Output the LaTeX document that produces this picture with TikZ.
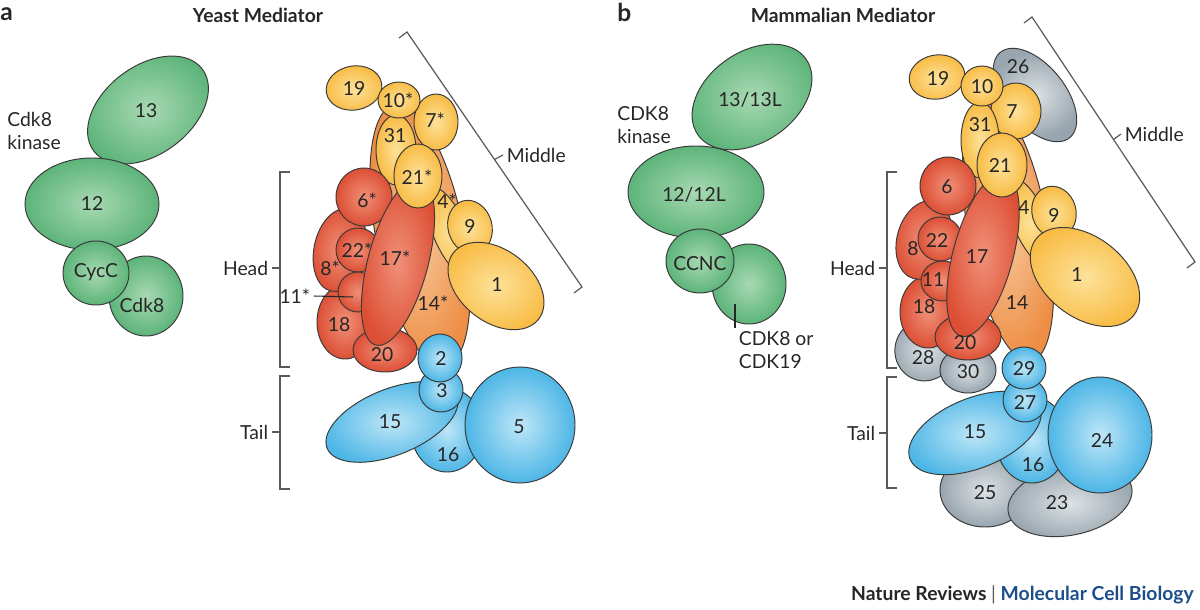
\documentclass[tikz,border=0pt]{standalone}
\usepackage{fontspec}
\setmainfont{Lato}
\usepackage{xcolor}
\usetikzlibrary{calc, positioning}

\definecolor{edgec}{HTML}{3A3A3A}
\definecolor{txt}{HTML}{262626}
\definecolor{brk}{HTML}{5A5A5A}
\definecolor{natblue}{HTML}{1C4E8A}
\definecolor{grnin}{HTML}{A8D9B2}
\definecolor{grnout}{HTML}{5DB47A}
\definecolor{yelin}{HTML}{FDE29A}
\definecolor{yelout}{HTML}{F8BC45}
\definecolor{redin}{HTML}{F09078}
\definecolor{redout}{HTML}{DC4F35}
\definecolor{orgin}{HTML}{F7C79A}
\definecolor{orgout}{HTML}{EE8E45}
\definecolor{bluin}{HTML}{BEE6F7}
\definecolor{bluout}{HTML}{4DB6E6}
\definecolor{gryin}{HTML}{DDE2E5}
\definecolor{gryout}{HTML}{98A5AE}

% one subunit: style, centre, x radius, y radius, tilt
\newcommand{\blob}[5]{\path[#1, rotate around={#5:#2}] #2 ellipse (#3 and #4);}

\begin{document}
\begin{tikzpicture}[x=0.02cm, y=-0.02cm,
    every node/.style={font=\fontsize{11}{13}\selectfont, text=txt},
    grnblob/.style={draw=edgec, line width=0.55pt, inner color=grnin, outer color=grnout},
    yelblob/.style={draw=edgec, line width=0.55pt, inner color=yelin, outer color=yelout},
    redblob/.style={draw=edgec, line width=0.55pt, inner color=redin, outer color=redout},
    orgblob/.style={draw=edgec, line width=0.55pt, inner color=orgin, outer color=orgout},
    blublob/.style={draw=edgec, line width=0.55pt, inner color=bluin, outer color=bluout},
    gryblob/.style={draw=edgec, line width=0.55pt, inner color=gryin, outer color=gryout},
    brkt/.style={draw=brk, line width=0.7pt},
    side/.style={inner sep=2pt}]
    \useasboundingbox (0,0) rectangle (1200,609);

    % Tiêu đề
    \node[font=\fontsize{14}{16}\selectfont\bfseries, anchor=west, inner sep=0pt] (pa) at (0,14) {a};
    \node[font=\fontsize{14}{16}\selectfont\bfseries, anchor=west, inner sep=0pt] (pb) at (617,12) {b};
    \node[font=\fontsize{11}{13}\selectfont\bfseries, anchor=base] (tita) at (258,22) {Yeast Mediator};
    \node[font=\fontsize{11}{13}\selectfont\bfseries, anchor=base] (titb) at (843,22) {Mammalian Mediator};

    % (a) module kinase
    \blob{grnblob}{(148,110)}{68}{44}{37}
    \blob{grnblob}{(92,204)}{67}{46}{0}
    \blob{grnblob}{(146,296)}{37}{40}{0}
    \blob{grnblob}{(96,273)}{33}{32}{0}

    % (a) lõi Mediator
    \blob{orgblob}{(420,235)}{44}{133}{11}
    \blob{yelblob}{(354,88)}{28}{22}{10}
    \blob{yelblob}{(436,122)}{22}{28}{0}
    \blob{yelblob}{(396,150)}{20}{35}{0}
    \blob{yelblob}{(399,100)}{21}{18}{0}
    \blob{yelblob}{(450,232)}{17}{48}{23}
    \blob{yelblob}{(470,227)}{22}{27}{15}
    \blob{yelblob}{(496,286)}{54}{36}{-38}
    \blob{redblob}{(345,322)}{28}{37}{0}
    \blob{redblob}{(340,250)}{26}{42}{-12}
    \blob{redblob}{(358,250)}{22}{22}{0}
    \blob{redblob}{(358,292)}{20}{20}{0}
    \blob{redblob}{(385,350)}{32}{22}{0}
    \blob{redblob}{(364,197)}{28}{29}{0}
    \blob{redblob}{(398,262)}{30}{86}{-15}
    \blob{yelblob}{(418,176)}{24}{32}{0}
    \blob{blublob}{(447,430)}{36}{42}{0}
    \blob{blublob}{(392,422)}{70}{33}{22}
    \blob{blublob}{(441,390)}{22}{22}{0}
    \blob{blublob}{(440,358)}{22}{24}{0}
    \blob{blublob}{(520,425)}{55}{58}{0}

    % (b) module kinase
    \blob{grnblob}{(752,97)}{66}{45}{35}
    \blob{grnblob}{(696,192)}{68}{46}{0}
    \blob{grnblob}{(749,284)}{37}{40}{0}
    \blob{grnblob}{(700,261)}{34}{32}{0}

    % (b) lõi Mediator
    \blob{orgblob}{(1008,230)}{40}{133}{10}
    \blob{gryblob}{(1035,95)}{30}{55}{39}
    \blob{yelblob}{(937,77)}{28}{22}{10}
    \blob{yelblob}{(1016,111)}{25}{28}{0}
    \blob{yelblob}{(980,140)}{19}{38}{0}
    \blob{yelblob}{(982,86)}{21}{20}{0}
    \blob{yelblob}{(1030,222)}{17}{47}{23}
    \blob{yelblob}{(1054,212)}{22}{26}{15}
    \blob{yelblob}{(1085,277)}{62}{40}{-38}
    \blob{gryblob}{(925,350)}{30}{31}{-20}
    \blob{gryblob}{(968,370)}{28}{23}{0}
    \blob{redblob}{(928,312)}{28}{36}{0}
    \blob{redblob}{(924,240)}{27}{40}{-15}
    \blob{redblob}{(940,239)}{22}{22}{0}
    \blob{redblob}{(943,281)}{22}{20}{0}
    \blob{redblob}{(968,337)}{33}{23}{0}
    \blob{redblob}{(948,186)}{28}{29}{0}
    \blob{redblob}{(983,255)}{30}{84}{-15}
    \blob{yelblob}{(1002,165)}{25}{32}{0}
    \blob{gryblob}{(985,490)}{45}{37}{0}
    \blob{gryblob}{(1070,500)}{63}{35}{12}
    \blob{blublob}{(1032,440)}{36}{43}{0}
    \blob{blublob}{(975,433)}{70}{35}{22}
    \blob{blublob}{(1025,400)}{22}{22}{0}
    \blob{blublob}{(1024,368)}{22}{21}{0}
    \blob{blublob}{(1100,435)}{52}{58}{0}

    % Nhãn (a)
    \node (a13) at (146,111) {13};
    \node (a12) at (92,203) {12};
    \node (acyc) at (96,272) {CycC};
    \node (acdk) at (142,305) {Cdk8};
    \node[anchor=west, align=left, inner sep=0pt] (akin) at (7,131) {Cdk8\\kinase};
    \node (a19) at (354,88) {19};
    \node (a10) at (398,100) {10*};
    \node (a7) at (435,120) {7*};
    \node (a31) at (395,136) {31};
    \node (a21) at (417,177) {21*};
    \node (a6) at (367,200) {6*};
    \node (a4) at (447,201) {4*};
    \node (a9) at (470,226) {9};
    \node (a1) at (497,285) {1};
    \node (a22) at (357,250) {22*};
    \node (a17) at (395,258) {17*};
    \node (a8) at (330,268) {8*};
    \node (a18) at (339,325) {18};
    \node (a20) at (382,355) {20};
    \node (a14) at (433,303) {14*};
    \node (a2) at (441,358) {2};
    \node (a3) at (442,391) {3};
    \node (a15) at (390,422) {15};
    \node (a16) at (448,455) {16};
    \node (a5) at (519,427) {5};
    \node[anchor=east, side] (a11) at (314,296) {11*};
    \coordinate (p11) at (353,297);
    \draw[draw=txt, line width=0.6pt] (a11.east) -- (p11);

    % Nhãn (b)
    \node (b13) at (750,100) {13/13L};
    \node (b12) at (694,195) {12/12L};
    \node (bccnc) at (700,264) {CCNC};
    \node[anchor=west, align=left, inner sep=0pt] (bkin) at (617,125) {CDK8\\kinase};
    \coordinate (pcdk) at (735,304);
    \node[anchor=north west, align=left, side] (bcdk) at (735,328) {CDK8 or\\CDK19};
    \draw[draw=txt, line width=0.6pt] (pcdk) -- (bcdk.north west);
    \node (b19) at (938,78) {19};
    \node (b10) at (982,87) {10};
    \node (b26) at (1018,67) {26};
    \node (b7) at (1012,112) {7};
    \node (b31) at (980,125) {31};
    \node (b21) at (1000,165) {21};
    \node (b6) at (947,187) {6};
    \node (b4) at (1024,208) {4};
    \node (b9) at (1054,215) {9};
    \node (b1) at (1077,275) {1};
    \node (b22) at (937,240) {22};
    \node (b8) at (913,249) {8};
    \node (b17) at (977,257) {17};
    \node (b11) at (933,280) {11};
    \node (b18) at (924,307) {18};
    \node (b14) at (1017,303) {14};
    \node (b20) at (965,343) {20};
    \node (b28) at (923,358) {28};
    \node (b30) at (968,372) {30};
    \node (b29) at (1024,368) {29};
    \node (b27) at (1025,402) {27};
    \node (b15) at (975,432) {15};
    \node (b16) at (1033,465) {16};
    \node (b24) at (1102,440) {24};
    \node (b25) at (985,493) {25};
    \node (b23) at (1057,503) {23};

    % Ngoặc (a)
    \draw[brkt] (290,172) -- (280,172) -- (280,367) -- (290,367);
    \coordinate (hka) at (280,268);
    \node[anchor=east, side] (heada) at (272,268) {Head};
    \draw[brkt] (hka) -- (heada.east);
    \draw[brkt] (290,376) -- (280,376) -- (280,489) -- (290,489);
    \coordinate (tka) at (280,432);
    \node[anchor=east, side] (taila) at (272,432) {Tail};
    \draw[brkt] (tka) -- (taila.east);
    \draw[brkt] (399,38) -- (407,32) -- (582,287) -- (574,293);
    \coordinate (mka) at (494.5,159.5);
    \node[anchor=west, side] (mida) at (503,155) {Middle};
    \draw[brkt] (mka) -- (mida.west);

    % Ngoặc (b)
    \draw[brkt] (897,172) -- (887,172) -- (887,368) -- (897,368);
    \coordinate (hkb) at (887,268);
    \node[anchor=east, side] (headb) at (879,268) {Head};
    \draw[brkt] (hkb) -- (headb.east);
    \draw[brkt] (897,377) -- (887,377) -- (887,488) -- (897,488);
    \coordinate (tkb) at (887,433);
    \node[anchor=east, side] (tailb) at (879,433) {Tail};
    \draw[brkt] (tkb) -- (tailb.east);
    \draw[brkt] (1024,23) -- (1032,17) -- (1195,262) -- (1187,268);
    \coordinate (mkb) at (1113.5,139.5);
    \node[anchor=west, side] (midb) at (1121,134) {Middle};
    \draw[brkt] (mkb) -- (midb.west);

    % Chân trang
    \node[anchor=east, inner sep=0pt, font=\fontsize{11}{13}\selectfont\bfseries] (foot) at (1194,595)
        {Nature Reviews \textcolor{brk}{\mdseries|} \textcolor{natblue}{Molecular Cell Biology}};
\end{tikzpicture}
\end{document}
